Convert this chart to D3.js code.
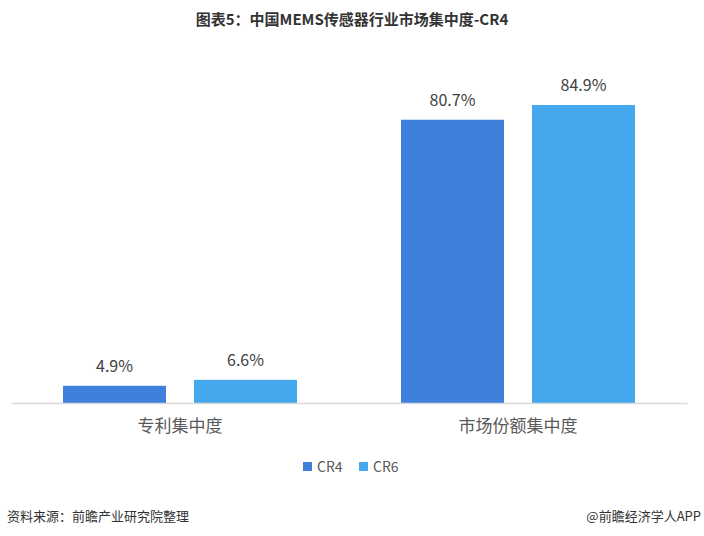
<!DOCTYPE html>
<html><head><meta charset="utf-8">
<script src="https://cdn.jsdelivr.net/npm/d3@7"></script>
<style>body{margin:0;background:#fff;} svg{display:block;font-family:"Microsoft YaHei","Noto Sans CJK SC",sans-serif;}</style>
</head><body>
<script>
const categories = ["专利集中度", "市场份额集中度"];
const seriesNames = ["CR4", "CR6"];
const cr4 = [4.9, 80.7];
const cr6 = [6.6, 84.9];
const colors = ["#3f80dc", "#45a8ee"];
const title = "图表5：中国MEMS传感器行业市场集中度-CR4";

const W = 704, H = 536;
const svg = d3.select("body").append("svg").attr("width", W).attr("height", H);

const x0 = d3.scaleBand().domain(categories).range([11, 687]).paddingInner(0).paddingOuter(0);
const x1 = d3.scaleBand().domain(seriesNames).range([0, x0.bandwidth()]).paddingInner(0.2137).paddingOuter(0.397);
const y = d3.scaleLinear().domain([0, 90]).range([403, 403 - 90 * 3.51]);

svg.append("text").attr("x", 352).attr("y", 25).attr("text-anchor", "middle")
  .attr("font-size", 15).attr("font-weight", "bold").attr("fill", "#333").text(title);

const data = categories.map((c, i) => ({cat: c, vals: [cr4[i], cr6[i]]}));
const g = svg.selectAll("g.cat").data(data).join("g").attr("transform", d => `translate(${x0(d.cat)},0)`);
g.selectAll("rect").data(d => d.vals.map((v, j) => ({s: seriesNames[j], v, j}))).join("rect")
  .attr("x", d => x1(d.s)).attr("width", x1.bandwidth())
  .attr("y", d => y(d.v)).attr("height", d => y(0) - y(d.v)).attr("fill", d => colors[d.j]);
g.selectAll("text.val").data(d => d.vals.map((v, j) => ({s: seriesNames[j], v, j}))).join("text")
  .attr("class", "val").attr("x", d => x1(d.s) + x1.bandwidth() / 2).attr("y", d => y(d.v) - 14)
  .attr("text-anchor", "middle").attr("font-size", 16).attr("fill", "#404040").text(d => d.v.toFixed(1) + "%");

const axis = svg.append("g").attr("transform", "translate(0,403)").call(d3.axisBottom(x0).tickSize(0).tickPadding(17));
axis.select(".domain").attr("stroke", "#d9d9d9").attr("stroke-width", 1.5);
axis.selectAll("text").attr("font-size", 17).attr("fill", "#595959").attr("font-family", "\"Noto Sans CJK SC\",sans-serif");

const leg = svg.append("g");
const legX = [303, 359];
seriesNames.forEach((s, i) => {
  leg.append("rect").attr("x", legX[i]).attr("y", 462).attr("width", 9).attr("height", 9).attr("fill", colors[i]);
  leg.append("text").attr("x", legX[i] + 14).attr("y", 472).attr("font-size", 14).attr("fill", "#595959").text(s);
});

svg.append("text").attr("x", 7).attr("y", 521).attr("font-size", 13).attr("fill", "#333").text("资料来源：前瞻产业研究院整理");
svg.append("text").attr("x", 701).attr("y", 521).attr("text-anchor", "end").attr("font-size", 13).attr("fill", "#333").text("@前瞻经济学人APP");
</script>
</body></html>
